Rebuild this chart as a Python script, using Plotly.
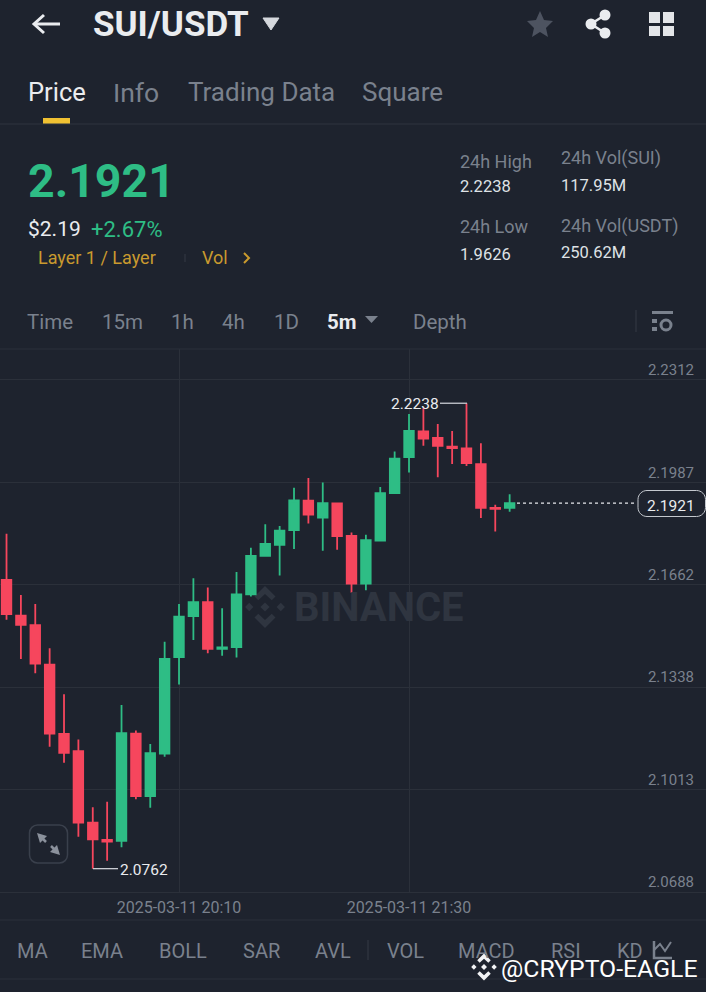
import plotly.graph_objects as go

times = ["19:10","19:15","19:20","19:25","19:30","19:35","19:40","19:45","19:50","19:55","20:00","20:05",
         "20:10","20:15","20:20","20:25","20:30","20:35","20:40","20:45","20:50","20:55","21:00","21:05",
         "21:10","21:15","21:20","21:25","21:30","21:35","21:40","21:45","21:50","21:55","22:00","22:05"]
opens = [2.1678,2.1564,2.1534,2.1409,2.1189,2.1135,2.0908,2.0853,2.0850,2.1190,2.0992,2.1127,
         2.1433,2.1563,2.1607,2.1459,2.1465,2.1632,2.1754,2.1789,2.1836,2.1929,2.1875,2.1920,
         2.1817,2.1666,2.1802,2.1953,2.2067,2.2149,2.2128,2.2100,2.2095,2.2045,2.1906,2.1906]
closes = [2.1569,2.1535,2.1412,2.1190,2.1129,2.0908,2.0855,2.0848,2.1192,2.0992,2.1128,2.1427,
          2.1561,2.1607,2.1459,2.1464,2.1632,2.1754,2.1792,2.1834,2.1930,2.1885,2.1921,2.1817,
          2.1666,2.1804,2.1953,2.2062,2.2150,2.2126,2.2103,2.2096,2.2048,2.1906,2.1903,2.1921]
highs = [2.1824,2.1630,2.1601,2.1461,2.1315,2.1172,2.0957,2.0974,2.1281,2.1200,2.1157,2.1482,
         2.1601,2.1683,2.1654,2.1588,2.1703,2.1780,2.1854,2.1849,2.1970,2.2001,2.1987,2.1922,
         2.1828,2.1821,2.1972,2.2085,2.2204,2.2222,2.2172,2.2150,2.2238,2.2111,2.1916,2.1949]
lows = [2.1551,2.1427,2.1382,2.1149,2.1098,2.0863,2.0762,2.0787,2.0830,2.0982,2.0955,2.1117,
        2.1346,2.1487,2.1445,2.1437,2.1432,2.1625,2.1752,2.1692,2.1776,2.1857,2.1770,2.1773,
        2.1637,2.1645,2.1800,2.1950,2.2018,2.2103,2.2003,2.2045,2.2039,2.1874,2.1831,2.1894]
y_ticks = [2.2312, 2.1987, 2.1662, 2.1338, 2.1013, 2.0688]
x_ticks = ["2025-03-11 20:10", "2025-03-11 21:30"]
last_price = 2.1921
session_high = 2.2238
session_low = 2.0762

W, H = 706, 992
BG = "#1e232e"
GRID = "#2b303a"
GREEN = "#2ebd85"
RED = "#f6465d"
GRAY = "#7a818d"
GOLD = "#c99a2e"
FONT = "Roboto"

dates = ["2025-03-11 " + t for t in times]

shapes, annos = [], []


def fx(x):
    return x / W


def fy(y):
    return 1 - y / H


def text(x, y, s, size, color=GRAY, anchor="left", bold=False, **kw):
    if anchor == "left":
        x -= 1
    annos.append(dict(x=fx(x), y=fy(y), xref="paper", yref="paper", text=("<b>%s</b>" % s) if bold else s,
                      showarrow=False, xanchor=anchor, yanchor="middle",
                      font=dict(size=size, color=color, family=kw.pop("family", FONT)),
                      borderpad=0, **kw))


def path(pts, fill=None, stroke=None, width=1.5, close=True, layer="above"):
    d = "M " + " L ".join("%.5f,%.5f" % (fx(a), fy(b)) for a, b in pts) + (" Z" if close else "")
    shapes.append(dict(type="path", path=d, xref="paper", yref="paper", layer=layer,
                       fillcolor=fill if fill else "rgba(0,0,0,0)",
                       line=dict(color=stroke if stroke else "rgba(0,0,0,0)", width=width if stroke else 0)))


def rect(x0, y0, x1, y1, fill, layer="above"):
    shapes.append(dict(type="rect", x0=fx(x0), x1=fx(x1), y0=fy(y1), y1=fy(y0), xref="paper", yref="paper",
                       fillcolor=fill, line=dict(width=0), layer=layer))


def hline(y, x0=0, x1=W, color=GRID, width=1):
    shapes.append(dict(type="line", x0=fx(x0), x1=fx(x1), y0=fy(y), y1=fy(y), xref="paper", yref="paper",
                       line=dict(color=color, width=width)))


def vline(x, y0, y1, color=GRID, width=1):
    shapes.append(dict(type="line", x0=fx(x), x1=fx(x), y0=fy(y0), y1=fy(y1), xref="paper", yref="paper",
                       line=dict(color=color, width=width)))


def circle(cx, cy, r, fill=None, stroke=None, width=2):
    shapes.append(dict(type="circle", x0=fx(cx - r), x1=fx(cx + r), y0=fy(cy + r), y1=fy(cy - r),
                       xref="paper", yref="paper", fillcolor=fill if fill else "rgba(0,0,0,0)",
                       line=dict(color=stroke if stroke else "rgba(0,0,0,0)", width=width if stroke else 0)))


def rrect(x0, y0, x1, y1, r, stroke, fill=None, width=1):
    c = 0.45 * r
    d = ("M {a},{t} L {b},{t} C {b1},{t} {x1},{t1} {x1},{c0} L {x1},{c1} C {x1},{b2} {b1},{bb} {b},{bb} "
         "L {a},{bb} C {a1},{bb} {x0},{b2} {x0},{c1} L {x0},{c0} C {x0},{t1} {a1},{t} {a},{t} Z").format(
        a=fx(x0 + r), b=fx(x1 - r), t=fy(y0), bb=fy(y1), x0=fx(x0), x1=fx(x1),
        b1=fx(x1 - c), a1=fx(x0 + c), t1=fy(y0 + c), b2=fy(y1 - c), c0=fy(y0 + r), c1=fy(y1 - r))
    shapes.append(dict(type="path", path=d, xref="paper", yref="paper",
                       fillcolor=fill if fill else "rgba(0,0,0,0)", line=dict(color=stroke, width=width)))


def logo(cx, cy, r, color, layer="above"):
    def p(lst):
        path([(cx + a * r, cy + b * r) for a, b in lst], fill=color, layer=layer)
    p([(0, -1), (.5, -.5), (.32, -.32), (0, -.62), (-.32, -.32), (-.5, -.5)])
    p([(0, 1), (.5, .5), (.32, .32), (0, .62), (-.32, .32), (-.5, .5)])
    p([(0, -.22), (.22, 0), (0, .22), (-.22, 0)])
    p([(-.75, -.2), (-.55, 0), (-.75, .2), (-.95, 0)])
    p([(.75, -.2), (.95, 0), (.75, .2), (.55, 0)])


# ---- header
path([(60, 24), (35, 24)], stroke="#eaecef", width=3, close=False)
path([(44, 15), (34, 24), (44, 33)], stroke="#eaecef", width=3, close=False)
text(93, 25, "SUI/USDT", 35, "#eaecef", bold=True)
path([(263, 18), (279, 18), (271, 30)], fill="#d5d8dd", stroke="#d5d8dd", width=1)
path([(540, 11), (544, 20), (553, 21), (546, 28), (548, 37), (540, 32), (532, 37), (534, 28), (527, 21), (536, 20)],
     fill="#4d5360")
path([(605, 15), (591, 24), (605, 33)], stroke="#eaecef", width=2.5, close=False)
circle(605, 15, 5.5, fill="#eaecef")
circle(591, 24, 5.5, fill="#eaecef")
circle(605, 33, 5.5, fill="#eaecef")
rect(649, 12, 660, 23, "#e3e5e8")
rect(663, 12, 674, 23, "#e3e5e8")
rect(649, 26, 660, 36, "#e3e5e8")
rect(663, 26, 674, 36, "#e3e5e8")

# ---- tabs
text(28, 92, "Price", 25.5, "#eaecef")
text(113, 92, "Info", 26.5, GRAY)
text(188, 92, "Trading Data", 26, GRAY)
text(362, 92, "Square", 26, GRAY)
rect(43, 118, 70, 124, "#f0c132")
hline(124, color="#2f343e")

# ---- price block
text(28, 181, "2.1921", 46.5, GREEN, bold=True)
text(28, 229, "$2.19", 21, "#eaecef")
text(91, 230, "+2.67%", 22, GREEN)
text(38, 258, "Layer 1 / Layer", 18, GOLD)
vline(185, 254, 262, color="#343a45")
text(202, 258, "Vol", 18, GOLD)
path([(244, 253), (249, 258), (244, 263)], stroke=GOLD, width=2, close=False)
text(460, 161, "24h High", 18, GRAY)
text(460, 187, "2.2238", 16.5, "#dfe2e6")
text(460, 227, "24h Low", 18, GRAY)
text(460, 254, "1.9626", 16.5, "#dfe2e6")
text(561, 158, "24h Vol(SUI)", 18, GRAY)
text(561, 185, "117.95M", 16.5, "#dfe2e6")
text(561, 226, "24h Vol(USDT)", 18, GRAY)
text(561, 252, "250.62M", 16.5, "#dfe2e6")

# ---- interval row
for x, s in [(27, "Time"), (102, "15m"), (171, "1h"), (222, "4h"), (274, "1D"), (413, "Depth")]:
    text(x, 322, s, 20.5, GRAY)
text(327, 322, "5m", 20.5, "#eaecef", bold=True)
path([(365, 316), (378, 316), (371.5, 323)], fill="#7a818d")
vline(636, 310, 332, color="#343a45")
rect(652, 311, 673, 314, "#7a818d")
rect(652, 319, 657, 323, "#7a818d")
rect(652, 327, 657, 331, "#7a818d")
circle(666, 325, 5, stroke="#7a818d", width=3)
hline(349, color="#2b303a")

# ---- chart decorations
logo(265, 607, 21, "#2f3540", layer="below")
text(294, 607, "BINANCE", 40, "#2f3540", bold=True)
text(391, 403.5, "2.2238", 15.5, "#eaecef")
text(120, 870, "2.0762", 15.5, "#eaecef")
shapes.append(dict(type="line", xref="paper", yref="y", x0=fx(440), x1=fx(467), y0=session_high, y1=session_high,
                   line=dict(color="#c9ccd2", width=1.3)))
shapes.append(dict(type="line", xref="paper", yref="y", x0=fx(93), x1=fx(118), y0=session_low, y1=session_low,
                   line=dict(color="#c9ccd2", width=1.3)))
shapes.append(dict(type="line", xref="paper", yref="y", x0=fx(517), x1=fx(637), y0=last_price, y1=last_price,
                   line=dict(color="#e6e8eb", width=1.2, dash="3px,3px")))
rrect(638, 490.5, 705.5, 516.5, 9, "#c4c8ce", fill=BG)
text(671, 506, "2.1921", 15.5, "#eaecef", anchor="center")
rrect(29.5, 825, 67.5, 863, 8, "#3a404c", fill="rgba(30,35,46,0.6)", width=1.5)
path([(37, 833), (47, 836), (40, 843)], fill="#8b919c")
path([(42, 838), (46, 842)], stroke="#8b919c", width=2.5, close=False)
path([(60, 855), (50, 852), (57, 845)], fill="#8b919c")
path([(51, 846), (55, 850)], stroke="#8b919c", width=2.5, close=False)

# ---- bottom bar
hline(920, color="#2b303a")
hline(979, color="#2b303a")
for x, s in [(32, "MA"), (102, "EMA"), (183, "BOLL"), (261, "SAR"), (333, "AVL"), (405, "VOL"),
             (486, "MACD"), (566, "RSI"), (630, "KD")]:
    text(x, 951, s, 20, GRAY, anchor="center")
vline(368, 940, 960, color="#343a45")
path([(654, 941), (654, 958), (672, 958)], stroke="#7a818d", width=2.5, close=False)
path([(654, 950), (660, 944), (665, 951), (671, 942)], stroke="#7a818d", width=2, close=False)
logo(484, 967, 13.5, "#f2f3f5")
text(501, 968, "@CRYPTO-EAGLE", 24.8, "#ffffff")

fig = go.Figure(go.Candlestick(
    x=dates, open=opens, high=highs, low=lows, close=closes,
    increasing=dict(line=dict(color=GREEN, width=1.8), fillcolor=GREEN),
    decreasing=dict(line=dict(color=RED, width=1.8), fillcolor=RED),
    whiskerwidth=0, hoverinfo="skip",
))
fig.update_layout(
    width=W, height=H, margin=dict(l=0, r=0, t=0, b=0), autosize=False,
    paper_bgcolor=BG, plot_bgcolor=BG, showlegend=False, hovermode=False,
    font=dict(family=FONT, color=GRAY), boxgap=0.05,
    shapes=shapes, annotations=annos,
    xaxis=dict(type="date", range=["2025-03-11 19:07:44", "2025-03-11 23:13:18"],
               domain=[0, 1], tickmode="array", tickvals=x_ticks, tickformat="%Y-%m-%d %H:%M",
               showgrid=True, gridcolor=GRID, gridwidth=1, zeroline=False,
               showline=True, linecolor=GRID, ticks="", anchor="y", ticklabelstandoff=1,
               tickfont=dict(size=16, color=GRAY), rangeslider=dict(visible=False)),
    yaxis=dict(range=[2.0688, 2.2410], domain=[1 - 892 / H, 1 - 349 / H], side="right",
               tickmode="array", tickvals=y_ticks, tickformat=".4f", ticks="",
               ticklabelposition="inside", ticklabelstandoff=9, ticklabelshift=-10,
               showgrid=True, gridcolor=GRID, gridwidth=1, zeroline=False, showline=False,
               tickfont=dict(size=15, color=GRAY)),
)
fig.write_html("out.html", config=dict(displayModeBar=False),
               post_script="document.body.style.margin='0';document.body.style.overflow='hidden';")
